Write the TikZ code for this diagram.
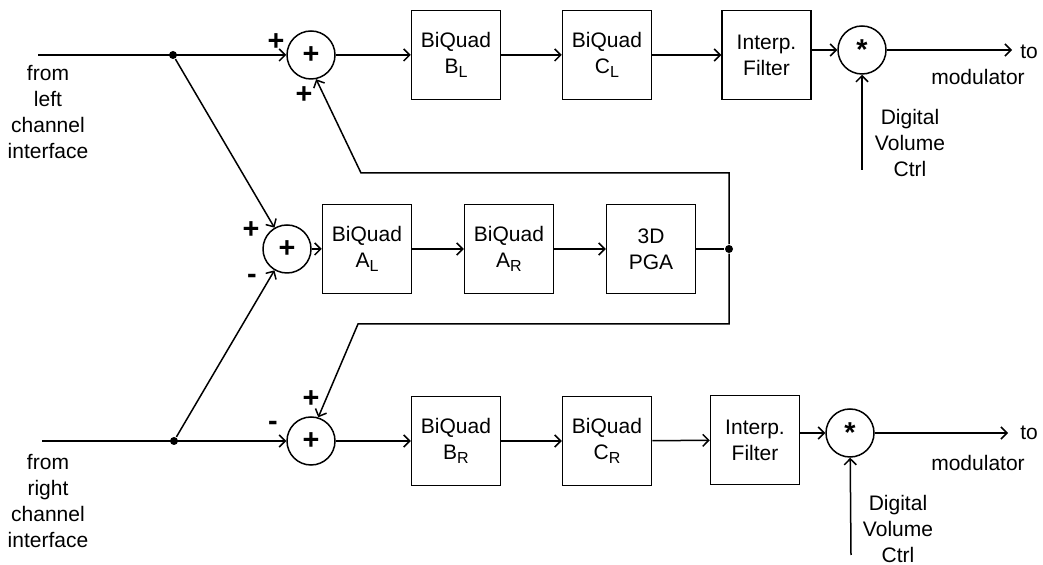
\documentclass[tikz,border=0pt]{standalone}
\usepackage{fontspec}
\setmainfont{Liberation Sans}
\usetikzlibrary{arrows.meta}

\tikzset{
  blk/.style={draw, minimum width=44.5pt, minimum height=44.5pt, align=center, inner sep=0pt},
  sumnode/.style={draw, circle, minimum size=24pt, inner sep=0pt, font=\bfseries\Large},
  sgn/.style={font=\bfseries\Large, inner sep=0pt},
  lbl/.style={align=center, inner sep=0pt},
  dotnode/.style={circle, fill, inner sep=0pt, minimum size=4pt},
}
\newcommand{\lsub}[1]{\raisebox{-0.3ex}{\footnotesize #1}}

\begin{document}
\begin{tikzpicture}[x=0.5pt, y=-0.5pt, line width=0.75pt,
  >={Straight Barb[length=3pt,width=6pt]}, font=\fontsize{10.5}{13}\selectfont]
\useasboundingbox (0,0) rectangle (1043,565);
% left channel
\coordinate (inL) at (38,55);
\node[dotnode] (jL) at (173,55) {};
\node[sumnode] (sumB) at (311,55) {+};
\node[blk] (bqBL) at (456,55) {BiQuad\\B\lsub{L}};
\node[blk] (bqCL) at (607,55) {BiQuad\\C\lsub{L}};
\node[blk] (ifL) at (766.5,55) {Interp.\\Filter};
\node[sumnode] (mulL) at (862,50) {*};
\coordinate (outL) at (1012,50);
\coordinate (vcL) at (862,170);
\node[lbl] (fromL) at (48,112) {from\\left\\channel\\interface};
\node[lbl] (toL) at (1029,52) {to};
\node[lbl] (modL) at (978,77) {modulator};
\node[lbl] (dvcL) at (910,143) {Digital\\Volume\\Ctrl};
\node[sgn] (pBa) at (276,42) {+};
\node[sgn] (pBb) at (304,95) {+};
% 3D path
\node[sumnode] (sumA) at (287,249) {+};
\node[blk] (bqAL) at (367,249) {BiQuad\\A\lsub{L}};
\node[blk] (bqAR) at (509,249) {BiQuad\\A\lsub{R}};
\node[blk] (pga) at (651,249) {3D\\PGA};
\node[dotnode] (jF) at (729,249) {};
\coordinate (fbT) at (361,173);
\coordinate (fbB) at (358,324);
\node[sgn] (pA) at (251,230) {+};
\node[sgn] (mA) at (252,279) {-};
% right channel
\coordinate (inR) at (42,441);
\node[dotnode] (jR) at (174,441) {};
\node[sumnode] (sumR) at (311,441) {+};
\node[blk] (bqBR) at (456,441) {BiQuad\\B\lsub{R}};
\node[blk] (bqCR) at (607,441) {BiQuad\\C\lsub{R}};
\node[blk] (ifR) at (755,440) {Interp.\\Filter};
\node[sumnode] (mulR) at (850,433) {*};
\coordinate (outR) at (1008,433);
\coordinate (vcR) at (851,555);
\node[lbl] (fromR) at (48,501) {from\\right\\channel\\interface};
\node[lbl] (toR) at (1029,433) {to};
\node[lbl] (modR) at (978,463) {modulator};
\node[lbl] (dvcR) at (898,529) {Digital\\Volume\\Ctrl};
\node[sgn] (pR) at (311,399) {+};
\node[sgn] (mR) at (273,426) {-};
% connectors
\draw[->] (inL) -- (sumB);
\draw[->] (sumB) -- (bqBL);
\draw[->] (bqBL) -- (bqCL);
\draw[->] (bqCL) -- (ifL);
\draw[->] (ifL.east |- mulL) -- (mulL);
\draw[->] (mulL) -- (outL);
\draw[->] (vcL) -- (mulL);
\draw[->] (jL) -- (sumA);
\draw[->] (jR) -- (sumA);
\draw[->] (sumA) -- (bqAL);
\draw[->] (bqAL) -- (bqAR);
\draw[->] (bqAR) -- (pga);
\draw (pga) -- (jF);
\draw[->] (jF) |- (fbT) -- (sumB.-78);
\draw[->] (jF) |- (fbB) -- (sumR.73);
\draw[->] (inR) -- (sumR);
\draw[->] (sumR) -- (bqBR);
\draw[->] (bqBR) -- (bqCR);
\draw[->] (bqCR) -- (ifR);
\draw[->] (ifR.east |- mulR) -- (mulR);
\draw[->] (mulR) -- (outR);
\draw[->] (vcR) -- (mulR);
\end{tikzpicture}
\end{document}
